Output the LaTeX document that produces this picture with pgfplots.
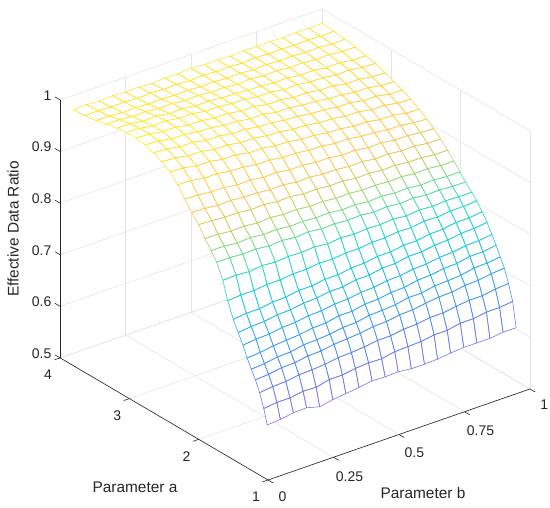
\documentclass[border=0pt]{standalone}
\usepackage{fontspec}
\setmainfont{Liberation Sans}
\usepackage{pgfplots}
\usepackage{pgfplotstable}
\pgfplotsset{compat=1.18}
\usetikzlibrary{calc}
\definecolor{axc}{RGB}{38,38,38}
\definecolor{gridc}{RGB}{228,228,228}
\pgfplotstableread[row sep=\\]{
b a z\\
0.05 1.20 .582\\ 0.1 1.20 .584\\ 0.15 1.20 .588\\ 0.2 1.20 .589\\ 0.25 1.20 .582\\ 0.3 1.20 .587\\ 0.35 1.20 .590\\ 0.4 1.20 .593\\ 0.45 1.20 .597\\ 0.5 1.20 .596\\ 0.55 1.20 .597\\ 0.6 1.20 .594\\ 0.65 1.20 .594\\ 0.7 1.20 .595\\ 0.75 1.20 .598\\ 0.8 1.20 .600\\ 0.85 1.20 .600\\ 0.9 1.20 .600\\ 0.95 1.20 .603\\ 1 1.20 .603\\
0.05 1.25 .610\\ 0.1 1.25 .613\\ 0.15 1.25 .613\\ 0.2 1.25 .617\\ 0.25 1.25 .616\\ 0.3 1.25 .622\\ 0.35 1.25 .622\\ 0.4 1.25 .626\\ 0.45 1.25 .628\\ 0.5 1.25 .627\\ 0.55 1.25 .632\\ 0.6 1.25 .633\\ 0.65 1.25 .634\\ 0.7 1.25 .638\\ 0.75 1.25 .638\\ 0.8 1.25 .643\\ 0.85 1.25 .643\\ 0.9 1.25 .647\\ 0.95 1.25 .647\\ 1 1.25 .650\\
0.05 1.31 .636\\ 0.1 1.31 .639\\ 0.15 1.31 .640\\ 0.2 1.31 .644\\ 0.25 1.31 .645\\ 0.3 1.31 .647\\ 0.35 1.31 .651\\ 0.4 1.31 .652\\ 0.45 1.31 .654\\ 0.5 1.31 .658\\ 0.55 1.31 .658\\ 0.6 1.31 .662\\ 0.65 1.31 .663\\ 0.7 1.31 .667\\ 0.75 1.31 .667\\ 0.8 1.31 .671\\ 0.85 1.31 .674\\ 0.9 1.31 .674\\ 0.95 1.31 .678\\ 1 1.31 .680\\
0.05 1.37 .656\\ 0.1 1.37 .658\\ 0.15 1.37 .662\\ 0.2 1.37 .663\\ 0.25 1.37 .667\\ 0.3 1.37 .668\\ 0.35 1.37 .672\\ 0.4 1.37 .674\\ 0.45 1.37 .676\\ 0.5 1.37 .680\\ 0.55 1.37 .681\\ 0.6 1.37 .685\\ 0.65 1.37 .686\\ 0.7 1.37 .690\\ 0.75 1.37 .693\\ 0.8 1.37 .694\\ 0.85 1.37 .698\\ 0.9 1.37 .699\\ 0.95 1.37 .703\\ 1 1.37 .705\\
0.05 1.43 .672\\ 0.1 1.43 .674\\ 0.15 1.43 .678\\ 0.2 1.43 .679\\ 0.25 1.43 .684\\ 0.3 1.43 .685\\ 0.35 1.43 .687\\ 0.4 1.43 .691\\ 0.45 1.43 .692\\ 0.5 1.43 .697\\ 0.55 1.43 .698\\ 0.6 1.43 .700\\ 0.65 1.43 .705\\ 0.7 1.43 .705\\ 0.75 1.43 .710\\ 0.8 1.43 .711\\ 0.85 1.43 .713\\ 0.9 1.43 .718\\ 0.95 1.43 .719\\ 1 1.43 .722\\
0.05 1.49 .689\\ 0.1 1.49 .691\\ 0.15 1.49 .695\\ 0.2 1.49 .697\\ 0.25 1.49 .699\\ 0.3 1.49 .703\\ 0.35 1.49 .704\\ 0.4 1.49 .709\\ 0.45 1.49 .709\\ 0.5 1.49 .714\\ 0.55 1.49 .715\\ 0.6 1.49 .719\\ 0.65 1.49 .720\\ 0.7 1.49 .725\\ 0.75 1.49 .726\\ 0.8 1.49 .730\\ 0.85 1.49 .731\\ 0.9 1.49 .736\\ 0.95 1.49 .736\\ 1 1.49 .740\\
0.05 1.55 .709\\ 0.1 1.55 .712\\ 0.15 1.55 .713\\ 0.2 1.55 .717\\ 0.25 1.55 .718\\ 0.3 1.55 .722\\ 0.35 1.55 .723\\ 0.4 1.55 .727\\ 0.45 1.55 .728\\ 0.5 1.55 .732\\ 0.55 1.55 .733\\ 0.6 1.55 .737\\ 0.65 1.55 .738\\ 0.7 1.55 .742\\ 0.75 1.55 .743\\ 0.8 1.55 .747\\ 0.85 1.55 .748\\ 0.9 1.55 .752\\ 0.95 1.55 .753\\ 1 1.55 .756\\
0.05 1.62 .728\\ 0.1 1.62 .731\\ 0.15 1.62 .732\\ 0.2 1.62 .736\\ 0.25 1.62 .737\\ 0.3 1.62 .741\\ 0.35 1.62 .742\\ 0.4 1.62 .746\\ 0.45 1.62 .746\\ 0.5 1.62 .751\\ 0.55 1.62 .751\\ 0.6 1.62 .756\\ 0.65 1.62 .756\\ 0.7 1.62 .761\\ 0.75 1.62 .761\\ 0.8 1.62 .765\\ 0.85 1.62 .766\\ 0.9 1.62 .770\\ 0.95 1.62 .771\\ 1 1.62 .774\\
0.05 1.69 .748\\ 0.1 1.69 .751\\ 0.15 1.69 .751\\ 0.2 1.69 .755\\ 0.25 1.69 .756\\ 0.3 1.69 .760\\ 0.35 1.69 .760\\ 0.4 1.69 .764\\ 0.45 1.69 .764\\ 0.5 1.69 .768\\ 0.55 1.69 .769\\ 0.6 1.69 .773\\ 0.65 1.69 .773\\ 0.7 1.69 .777\\ 0.75 1.69 .777\\ 0.8 1.69 .781\\ 0.85 1.69 .782\\ 0.9 1.69 .786\\ 0.95 1.69 .786\\ 1 1.69 .789\\
0.05 1.77 .778\\ 0.1 1.77 .780\\ 0.15 1.77 .780\\ 0.2 1.77 .783\\ 0.25 1.77 .783\\ 0.3 1.77 .786\\ 0.35 1.77 .786\\ 0.4 1.77 .789\\ 0.45 1.77 .788\\ 0.5 1.77 .791\\ 0.55 1.77 .791\\ 0.6 1.77 .794\\ 0.65 1.77 .794\\ 0.7 1.77 .797\\ 0.75 1.77 .796\\ 0.8 1.77 .800\\ 0.85 1.77 .799\\ 0.9 1.77 .802\\ 0.95 1.77 .802\\ 1 1.77 .804\\
0.05 1.84 .812\\ 0.1 1.84 .813\\ 0.15 1.84 .811\\ 0.2 1.84 .814\\ 0.25 1.84 .812\\ 0.3 1.84 .814\\ 0.35 1.84 .813\\ 0.4 1.84 .815\\ 0.45 1.84 .812\\ 0.5 1.84 .815\\ 0.55 1.84 .813\\ 0.6 1.84 .815\\ 0.65 1.84 .814\\ 0.7 1.84 .816\\ 0.75 1.84 .813\\ 0.8 1.84 .816\\ 0.85 1.84 .814\\ 0.9 1.84 .816\\ 0.95 1.84 .815\\ 1 1.84 .815\\
0.05 1.93 .840\\ 0.1 1.93 .840\\ 0.15 1.93 .838\\ 0.2 1.93 .839\\ 0.25 1.93 .836\\ 0.3 1.93 .838\\ 0.35 1.93 .835\\ 0.4 1.93 .837\\ 0.45 1.93 .834\\ 0.5 1.93 .835\\ 0.55 1.93 .833\\ 0.6 1.93 .834\\ 0.65 1.93 .831\\ 0.7 1.93 .833\\ 0.75 1.93 .830\\ 0.8 1.93 .832\\ 0.85 1.93 .829\\ 0.9 1.93 .830\\ 0.95 1.93 .828\\ 1 1.93 .828\\
0.05 2.01 .856\\ 0.1 2.01 .856\\ 0.15 2.01 .853\\ 0.2 2.01 .855\\ 0.25 2.01 .852\\ 0.3 2.01 .853\\ 0.35 2.01 .850\\ 0.4 2.01 .851\\ 0.45 2.01 .849\\ 0.5 2.01 .850\\ 0.55 2.01 .847\\ 0.6 2.01 .848\\ 0.65 2.01 .845\\ 0.7 2.01 .847\\ 0.75 2.01 .844\\ 0.8 2.01 .845\\ 0.85 2.01 .842\\ 0.9 2.01 .843\\ 0.95 2.01 .841\\ 1 2.01 .841\\
0.05 2.10 .872\\ 0.1 2.10 .872\\ 0.15 2.10 .869\\ 0.2 2.10 .870\\ 0.25 2.10 .867\\ 0.3 2.10 .869\\ 0.35 2.10 .866\\ 0.4 2.10 .867\\ 0.45 2.10 .864\\ 0.5 2.10 .865\\ 0.55 2.10 .862\\ 0.6 2.10 .863\\ 0.65 2.10 .860\\ 0.7 2.10 .861\\ 0.75 2.10 .859\\ 0.8 2.10 .860\\ 0.85 2.10 .857\\ 0.9 2.10 .858\\ 0.95 2.10 .855\\ 1 2.10 .855\\
0.05 2.19 .892\\ 0.1 2.19 .891\\ 0.15 2.19 .889\\ 0.2 2.19 .889\\ 0.25 2.19 .886\\ 0.3 2.19 .887\\ 0.35 2.19 .884\\ 0.4 2.19 .885\\ 0.45 2.19 .881\\ 0.5 2.19 .882\\ 0.55 2.19 .879\\ 0.6 2.19 .880\\ 0.65 2.19 .876\\ 0.7 2.19 .877\\ 0.75 2.19 .874\\ 0.8 2.19 .875\\ 0.85 2.19 .872\\ 0.9 2.19 .872\\ 0.95 2.19 .869\\ 1 2.19 .869\\
0.05 2.29 .908\\ 0.1 2.29 .907\\ 0.15 2.29 .904\\ 0.2 2.29 .905\\ 0.25 2.29 .902\\ 0.3 2.29 .902\\ 0.35 2.29 .899\\ 0.4 2.29 .900\\ 0.45 2.29 .896\\ 0.5 2.29 .897\\ 0.55 2.29 .894\\ 0.6 2.29 .894\\ 0.65 2.29 .891\\ 0.7 2.29 .892\\ 0.75 2.29 .888\\ 0.8 2.29 .889\\ 0.85 2.29 .886\\ 0.9 2.29 .887\\ 0.95 2.29 .883\\ 1 2.29 .883\\
0.05 2.39 .926\\ 0.1 2.39 .925\\ 0.15 2.39 .922\\ 0.2 2.39 .922\\ 0.25 2.39 .918\\ 0.3 2.39 .919\\ 0.35 2.39 .915\\ 0.4 2.39 .916\\ 0.45 2.39 .912\\ 0.5 2.39 .912\\ 0.55 2.39 .909\\ 0.6 2.39 .909\\ 0.65 2.39 .905\\ 0.7 2.39 .906\\ 0.75 2.39 .902\\ 0.8 2.39 .903\\ 0.85 2.39 .899\\ 0.9 2.39 .899\\ 0.95 2.39 .896\\ 1 2.39 .895\\
0.05 2.49 .946\\ 0.1 2.49 .945\\ 0.15 2.49 .941\\ 0.2 2.49 .941\\ 0.25 2.49 .937\\ 0.3 2.49 .936\\ 0.35 2.49 .932\\ 0.4 2.49 .932\\ 0.45 2.49 .928\\ 0.5 2.49 .928\\ 0.55 2.49 .924\\ 0.6 2.49 .924\\ 0.65 2.49 .920\\ 0.7 2.49 .920\\ 0.75 2.49 .916\\ 0.8 2.49 .915\\ 0.85 2.49 .911\\ 0.9 2.49 .911\\ 0.95 2.49 .907\\ 1 2.49 .906\\
0.05 2.60 .962\\ 0.1 2.60 .961\\ 0.15 2.60 .956\\ 0.2 2.60 .956\\ 0.25 2.60 .951\\ 0.3 2.60 .951\\ 0.35 2.60 .946\\ 0.4 2.60 .946\\ 0.45 2.60 .942\\ 0.5 2.60 .941\\ 0.55 2.60 .937\\ 0.6 2.60 .936\\ 0.65 2.60 .932\\ 0.7 2.60 .931\\ 0.75 2.60 .927\\ 0.8 2.60 .927\\ 0.85 2.60 .922\\ 0.9 2.60 .922\\ 0.95 2.60 .917\\ 1 2.60 .916\\
0.05 2.72 .972\\ 0.1 2.72 .971\\ 0.15 2.72 .966\\ 0.2 2.72 .966\\ 0.25 2.72 .961\\ 0.3 2.72 .961\\ 0.35 2.72 .956\\ 0.4 2.72 .956\\ 0.45 2.72 .952\\ 0.5 2.72 .951\\ 0.55 2.72 .947\\ 0.6 2.72 .946\\ 0.65 2.72 .942\\ 0.7 2.72 .941\\ 0.75 2.72 .937\\ 0.8 2.72 .937\\ 0.85 2.72 .932\\ 0.9 2.72 .932\\ 0.95 2.72 .927\\ 1 2.72 .926\\
0.05 2.84 .980\\ 0.1 2.84 .979\\ 0.15 2.84 .974\\ 0.2 2.84 .974\\ 0.25 2.84 .969\\ 0.3 2.84 .969\\ 0.35 2.84 .964\\ 0.4 2.84 .964\\ 0.45 2.84 .960\\ 0.5 2.84 .959\\ 0.55 2.84 .955\\ 0.6 2.84 .954\\ 0.65 2.84 .950\\ 0.7 2.84 .949\\ 0.75 2.84 .945\\ 0.8 2.84 .945\\ 0.85 2.84 .940\\ 0.9 2.84 .940\\ 0.95 2.84 .935\\ 1 2.84 .934\\
0.05 2.96 .986\\ 0.1 2.96 .985\\ 0.15 2.96 .980\\ 0.2 2.96 .980\\ 0.25 2.96 .976\\ 0.3 2.96 .975\\ 0.35 2.96 .971\\ 0.4 2.96 .970\\ 0.45 2.96 .966\\ 0.5 2.96 .966\\ 0.55 2.96 .961\\ 0.6 2.96 .961\\ 0.65 2.96 .957\\ 0.7 2.96 .956\\ 0.75 2.96 .952\\ 0.8 2.96 .951\\ 0.85 2.96 .947\\ 0.9 2.96 .947\\ 0.95 2.96 .942\\ 1 2.96 .941\\
0.05 3.09 .989\\ 0.1 3.09 .988\\ 0.15 3.09 .984\\ 0.2 3.09 .984\\ 0.25 3.09 .979\\ 0.3 3.09 .979\\ 0.35 3.09 .975\\ 0.4 3.09 .975\\ 0.45 3.09 .971\\ 0.5 3.09 .971\\ 0.55 3.09 .966\\ 0.6 3.09 .966\\ 0.65 3.09 .962\\ 0.7 3.09 .962\\ 0.75 3.09 .958\\ 0.8 3.09 .958\\ 0.85 3.09 .953\\ 0.9 3.09 .953\\ 0.95 3.09 .949\\ 1 3.09 .948\\
0.05 3.23 .989\\ 0.1 3.23 .988\\ 0.15 3.23 .984\\ 0.2 3.23 .985\\ 0.25 3.23 .981\\ 0.3 3.23 .981\\ 0.35 3.23 .977\\ 0.4 3.23 .977\\ 0.45 3.23 .974\\ 0.5 3.23 .974\\ 0.55 3.23 .970\\ 0.6 3.23 .970\\ 0.65 3.23 .966\\ 0.7 3.23 .967\\ 0.75 3.23 .963\\ 0.8 3.23 .963\\ 0.85 3.23 .959\\ 0.9 3.23 .960\\ 0.95 3.23 .956\\ 1 3.23 .955\\
0.05 3.37 .986\\ 0.1 3.37 .986\\ 0.15 3.37 .982\\ 0.2 3.37 .983\\ 0.25 3.37 .979\\ 0.3 3.37 .980\\ 0.35 3.37 .976\\ 0.4 3.37 .977\\ 0.45 3.37 .974\\ 0.5 3.37 .974\\ 0.55 3.37 .971\\ 0.6 3.37 .971\\ 0.65 3.37 .968\\ 0.7 3.37 .969\\ 0.75 3.37 .965\\ 0.8 3.37 .966\\ 0.85 3.37 .962\\ 0.9 3.37 .963\\ 0.95 3.37 .959\\ 1 3.37 .959\\
0.05 3.52 .982\\ 0.1 3.52 .982\\ 0.15 3.52 .979\\ 0.2 3.52 .980\\ 0.25 3.52 .977\\ 0.3 3.52 .978\\ 0.35 3.52 .975\\ 0.4 3.52 .976\\ 0.45 3.52 .973\\ 0.5 3.52 .974\\ 0.55 3.52 .971\\ 0.6 3.52 .973\\ 0.65 3.52 .970\\ 0.7 3.52 .971\\ 0.75 3.52 .968\\ 0.8 3.52 .969\\ 0.85 3.52 .966\\ 0.9 3.52 .967\\ 0.95 3.52 .964\\ 1 3.52 .964\\
0.05 3.67 .977\\ 0.1 3.67 .977\\ 0.15 3.67 .975\\ 0.2 3.67 .976\\ 0.25 3.67 .974\\ 0.3 3.67 .975\\ 0.35 3.67 .973\\ 0.4 3.67 .974\\ 0.45 3.67 .972\\ 0.5 3.67 .973\\ 0.55 3.67 .971\\ 0.6 3.67 .972\\ 0.65 3.67 .970\\ 0.7 3.67 .971\\ 0.75 3.67 .969\\ 0.8 3.67 .970\\ 0.85 3.67 .968\\ 0.9 3.67 .969\\ 0.95 3.67 .967\\ 1 3.67 .967\\
0.05 3.83 .974\\ 0.1 3.83 .975\\ 0.15 3.83 .973\\ 0.2 3.83 .974\\ 0.25 3.83 .972\\ 0.3 3.83 .974\\ 0.35 3.83 .972\\ 0.4 3.83 .973\\ 0.45 3.83 .971\\ 0.5 3.83 .973\\ 0.55 3.83 .971\\ 0.6 3.83 .972\\ 0.65 3.83 .970\\ 0.7 3.83 .972\\ 0.75 3.83 .970\\ 0.8 3.83 .971\\ 0.85 3.83 .969\\ 0.9 3.83 .971\\ 0.95 3.83 .969\\ 1 3.83 .970\\
0.05 4.00 .972\\ 0.1 4.00 .973\\ 0.15 4.00 .971\\ 0.2 4.00 .973\\ 0.25 4.00 .971\\ 0.3 4.00 .972\\ 0.35 4.00 .970\\ 0.4 4.00 .972\\ 0.45 4.00 .971\\ 0.5 4.00 .973\\ 0.55 4.00 .971\\ 0.6 4.00 .972\\ 0.65 4.00 .970\\ 0.7 4.00 .972\\ 0.75 4.00 .971\\ 0.8 4.00 .972\\ 0.85 4.00 .970\\ 0.9 4.00 .972\\ 0.95 4.00 .971\\ 1 4.00 .972\\
}\surfdata
\begin{document}
\begin{tikzpicture}
\begin{axis}[
  x={(262pt,91pt)}, y={(-69.3pt,40.7pt)}, z={(0pt,516pt)},
  xmin=0,xmax=1,ymin=1,ymax=4,zmin=0.5,zmax=1,
  xtick={0,0.25,0.5,0.75,1}, xticklabels={0,0.25,0.5,0.75,1},
  ytick={1,2,3,4}, yticklabels={1,2,3,4},
  ztick={0.5,0.6,0.7,0.8,0.9,1}, zticklabels={0.5,0.6,0.7,0.8,0.9,1},
  grid=major, grid style={gridc, line width=0.6pt},
  axis line style={draw=none},
  major tick style={draw=none},
  major tick length=6pt, tick align=outside,
  tick label style={font=\fontsize{14}{14}\selectfont, text=axc},
  xticklabel style={xshift=4pt, yshift=-4pt},
  yticklabel style={yshift=-6pt},
  clip=false,
  colormap={whitemap}{color(0pt)=(white); color(1pt)=(white)},
  colormap={mymap}{rgb255(0pt)=(135,110,240); rgb255(17pt)=(85,135,245); rgb255(30pt)=(50,165,245); rgb255(45pt)=(20,205,228); rgb255(55pt)=(40,218,200); rgb255(63pt)=(110,222,145); rgb255(71pt)=(195,212,95); rgb255(78pt)=(255,198,85); rgb255(88pt)=(255,212,65); rgb255(100pt)=(255,236,45)},
]
\coordinate (P0) at (axis cs:0,1,0.5);
\addplot3[surf, shader=flat, draw=none, colormap name=whitemap, mesh/cols=20, mesh/rows=29] table[x=b, y=a, z=z] {\surfdata};
\addplot3[mesh, line width=0.6pt, mesh/cols=20, mesh/rows=29] table[x=b, y=a, z=z] {\surfdata};
\draw[axc, line width=0.6pt] (axis cs:0,4,0.5) -- (axis cs:0,4,1);
\draw[axc, line width=0.6pt] (axis cs:0,1,0.5) -- (axis cs:0,4,0.5);
\draw[axc, line width=0.6pt] (axis cs:0,1,0.5) -- (axis cs:1,1,0.5);
\draw[axc, line width=0.6pt] (axis cs:0,1,0.5) -- ++(-5.7pt,-2pt);
\draw[axc, line width=0.6pt] (axis cs:0,2,0.5) -- ++(-5.7pt,-2pt);
\draw[axc, line width=0.6pt] (axis cs:0,3,0.5) -- ++(-5.7pt,-2pt);
\draw[axc, line width=0.6pt] (axis cs:0,4,0.5) -- ++(-5.7pt,-2pt);
\draw[axc, line width=0.6pt] (axis cs:0,1,0.5) -- ++(5.2pt,-3pt);
\draw[axc, line width=0.6pt] (axis cs:0.25,1,0.5) -- ++(5.2pt,-3pt);
\draw[axc, line width=0.6pt] (axis cs:0.5,1,0.5) -- ++(5.2pt,-3pt);
\draw[axc, line width=0.6pt] (axis cs:0.75,1,0.5) -- ++(5.2pt,-3pt);
\draw[axc, line width=0.6pt] (axis cs:1,1,0.5) -- ++(5.2pt,-3pt);
\draw[axc, line width=0.6pt] (axis cs:0,4,0.5) -- ++(-5.2pt,3pt);
\draw[axc, line width=0.6pt] (axis cs:0,4,0.6) -- ++(-5.2pt,3pt);
\draw[axc, line width=0.6pt] (axis cs:0,4,0.7) -- ++(-5.2pt,3pt);
\draw[axc, line width=0.6pt] (axis cs:0,4,0.8) -- ++(-5.2pt,3pt);
\draw[axc, line width=0.6pt] (axis cs:0,4,0.9) -- ++(-5.2pt,3pt);
\draw[axc, line width=0.6pt] (axis cs:0,4,1) -- ++(-5.2pt,3pt);
\end{axis}
\node[font=\fontsize{15.4}{15.4}\selectfont, text=axc] at ($(P0)+(-133pt,-7pt)$) {Parameter a};
\node[font=\fontsize{15.4}{15.4}\selectfont, text=axc] at ($(P0)+(155pt,-13pt)$) {Parameter b};
\node[font=\fontsize{15.4}{15.4}\selectfont, text=axc, rotate=90] at ($(P0)+(-255pt,251pt)$) {Effective Data Ratio};
\pgfresetboundingbox
\path ($(P0)+(-268pt,480pt)$) rectangle ($(P0)+(282pt,-28pt)$);
\end{tikzpicture}
\end{document}
